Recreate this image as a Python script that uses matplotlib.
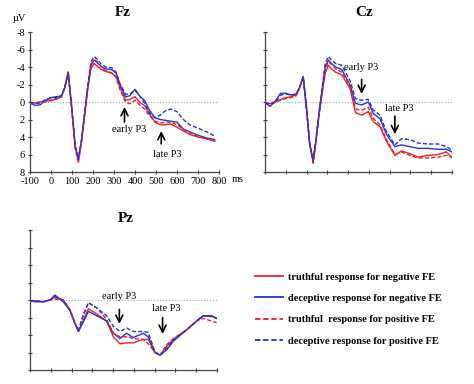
import numpy as np
import matplotlib
matplotlib.use('Agg')
import matplotlib.pyplot as plt
from matplotlib.lines import Line2D

plt.rcParams['font.family'] = ['Liberation Serif', 'DejaVu Serif']
plt.rcParams['axes.unicode_minus'] = False

# ===== Data (µV, positive plotted downward) =====
fz_t = [-100, -75, -50, -25, 0, 25, 50, 65, 82, 100, 115, 130, 145, 160, 175,
        190, 205, 220, 240, 260, 290, 310, 330, 355, 375, 400, 425, 445, 470,
        495, 520, 545, 570, 600, 630, 660, 700, 740, 780]
fz_truth_neg = [0.1, 0.1, 0.0, -0.1, -0.2, -0.3, -0.6, -1.6, -3.4, 1.0, 5.0, 6.7,
                4.5, 1.5, -1.5, -3.8, -4.4, -4.1, -3.7, -3.5, -3.3, -2.9, -1.6,
                -0.2, -0.3, -0.6, 0.1, 0.4, 1.4, 2.3, 2.6, 2.6, 2.5, 2.9, 3.3,
                3.7, 4.0, 4.2, 4.5]
fz_decep_neg = [0.1, 0.4, 0.3, -0.2, -0.5, -0.6, -0.7, -1.6, -3.4, 1.0, 5.0, 6.5,
                4.4, 1.4, -1.7, -4.2, -4.8, -4.5, -4.0, -3.8, -3.7, -3.3, -1.9,
                -0.6, -0.7, -1.45, -0.6, -0.2, 1.0, 1.8, 2.0, 2.1, 2.2, 2.3, 3.1,
                3.4, 3.8, 4.1, 4.3]
fz_truth_pos = [0.2, 0.1, 0.0, 0.0, -0.2, -0.4, -0.6, -1.6, -3.4, 1.1, 5.2, 7.0,
                4.6, 1.5, -1.6, -4.2, -4.9, -4.6, -4.0, -3.6, -3.3, -2.8, -1.3,
                0.0, 0.2, -0.2, 0.4, 0.8, 1.6, 2.2, 2.4, 2.3, 2.3, 2.6, 3.1, 3.6,
                3.9, 4.2, 4.4]
fz_decep_pos = [0.0, 0.2, 0.1, -0.3, -0.5, -0.5, -0.7, -1.6, -3.3, 1.0, 5.0, 6.6,
                4.4, 1.3, -1.8, -4.6, -5.2, -4.9, -4.3, -4.0, -3.9, -3.4, -2.0,
                -0.9, -0.9, -1.35, -0.6, 0.1, 1.3, 1.8, 1.5, 1.0, 0.8, 1.1, 2.0,
                2.6, 3.0, 3.4, 3.9]

cz_t = [-100, -75, -50, -25, 0, 25, 50, 65, 84, 100, 115, 132, 145, 160, 175,
        190, 205, 220, 240, 270, 310, 335, 365, 397, 421, 453, 485, 525, 557,
        597, 637, 685, 733, 773, 800]
cz_truth_neg = [0.15, 0.2, 0.0, -0.3, -0.5, -0.6, -0.8, -1.5, -2.9, 0.8, 4.8, 6.8,
                4.5, 1.5, -1.0, -3.3, -4.2, -3.8, -3.4, -3.1, -1.5, 1.2, 1.5, 1.1,
                2.25, 2.8, 4.5, 6.1, 5.6, 5.9, 6.3, 6.1, 6.0, 5.7, 6.4]
cz_decep_neg = [0.1, 0.5, -0.1, -1.0, -1.0, -0.8, -0.9, -1.6, -2.9, 0.8, 4.8, 6.7,
                4.4, 1.3, -1.4, -4.0, -4.8, -4.4, -4.0, -3.7, -1.9, 0.15, 0.34,
                0.0, 1.3, 1.9, 3.7, 5.1, 4.9, 5.1, 5.3, 5.3, 5.4, 5.4, 5.7]
cz_truth_pos = [0.2, 0.1, 0.0, -0.2, -0.4, -0.5, -0.7, -1.5, -2.9, 0.8, 4.8, 7.0,
                4.6, 1.5, -1.2, -3.8, -4.6, -4.3, -3.8, -3.4, -1.8, 0.8, 0.95,
                0.6, 1.9, 2.6, 4.3, 6.0, 5.7, 6.1, 6.4, 6.4, 6.3, 6.1, 6.3]
cz_decep_pos = [0.1, 0.3, 0.0, -0.8, -0.9, -0.8, -0.9, -1.6, -2.8, 0.8, 4.7, 6.7,
                4.3, 1.2, -1.6, -4.4, -5.2, -4.8, -4.4, -4.2, -2.4, -0.4, -0.2,
                -0.3, 0.9, 1.5, 3.4, 4.9, 4.2, 4.3, 4.7, 4.8, 4.8, 5.1, 5.5]

pz_t = [-100, -75, -36, -4, 20, 60, 92, 115, 133, 157, 181, 221, 269, 301, 333,
        365, 397, 445, 469, 501, 526, 558, 590, 654, 702, 734, 774, 798]
pz_truth_neg = [0.1, 0.1, 0.2, 0.0, -0.3, 0.0, 1.1, 2.6, 3.6, 2.3, 1.0, 1.6, 2.4,
                4.2, 5.0, 4.9, 4.9, 4.5, 4.5, 6.0, 6.3, 5.3, 4.5, 3.4, 2.4, 1.8,
                1.9, 2.1]
pz_decep_neg = [0.1, 0.2, 0.2, 0.0, -0.57, 0.2, 1.2, 2.6, 3.6, 2.5, 1.3, 1.8, 2.4,
                3.8, 4.4, 3.8, 4.3, 3.8, 4.2, 6.0, 6.3, 5.7, 4.7, 3.4, 2.4, 1.8,
                1.8, 2.1]
pz_truth_pos = [0.1, 0.1, 0.2, 0.0, -0.1, 0.0, 1.1, 2.6, 3.6, 1.8, 0.3, 0.9, 2.2,
                3.8, 4.2, 4.2, 4.4, 4.5, 5.0, 6.0, 6.3, 5.1, 4.4, 3.4, 2.4, 2.1,
                2.4, 2.6]
pz_decep_pos = [0.1, 0.1, 0.2, 0.0, -0.4, 0.1, 1.1, 2.5, 3.5, 1.6, 0.3, 0.9, 1.8,
                3.0, 3.6, 3.2, 3.6, 3.6, 3.7, 5.9, 6.3, 5.5, 4.6, 3.4, 2.4, 1.8,
                1.8, 2.1]

labels = ['truthful response for negative FE',
          'deceptive response for negative FE',
          'truthful  response for positive FE',
          'deceptive response for positive FE']

# arrows: (x, tail, tip, text_x, text_y, text)
fz_arrows = [(350, 2.6, 0.25, 371, 3.1, 'early P3'),
             (525, 5.1, 3.0, 554, 6.05, 'late P3')]
cz_arrows = [(365, -2.9, -0.6, 365, -4.0, 'early P3'),
             (525, 1.3, 4.0, 547, 0.7, 'late P3')]
pz_arrows = [(330, 0.76, 3.05, 330, -0.4, 'early P3'),
             (538, 1.7, 4.2, 558, 0.95, 'late P3')]

RED = '#e8202a'
BLUE = '#2233dd'
DASH = (0, (3, 1.5))
styles = [(RED, '-'), (BLUE, '-'), (RED, DASH), (BLUE, DASH)]

W, H = 474, 384
fig = plt.figure(figsize=(W / 100, H / 100), dpi=100)


def make_ax(left, right, top, bottom):
    return fig.add_axes([left / W, 1 - bottom / H, (right - left) / W, (bottom - top) / H])


def draw(ax, t, series, arrows, title, title_x, title_y, show_labels):
    ax.axhline(0, color='#aaaaaa', ls=':', lw=0.8, zorder=1)
    for y, (c, ls) in zip(series, styles):
        ax.plot(t, y, color=c, ls=ls, lw=1.0, zorder=3)
    ax.set_xlim(-100, 800)
    ax.set_ylim(8, -8)
    ax.set_xticks(np.arange(-100, 801, 100))
    ax.set_yticks(np.arange(-8, 9, 2))
    for s in ['top', 'right']:
        ax.spines[s].set_visible(False)
    for s in ['left', 'bottom']:
        ax.spines[s].set_color('#444444')
        ax.spines[s].set_linewidth(0.9)
    ax.tick_params(direction='inout', length=3, width=0.8, color='#444444',
                   labelsize=7.5, pad=2)
    if not show_labels:
        ax.set_xticklabels([])
        ax.set_yticklabels([])
    for x, tail, tip, tx, ty, txt in arrows:
        ax.annotate('', xy=(x, tip), xytext=(x, tail),
                    arrowprops=dict(arrowstyle='->,head_length=0.5,head_width=0.25',
                                    lw=1.2, color='black'))
        ax.text(tx, ty, txt, ha='center', va='center', fontsize=7.5)
    ax.text(title_x, title_y, title, transform=ax.transAxes, ha='center',
            va='center', fontsize=11, fontweight='bold')


ax_fz = make_ax(30, 219, 32, 172)
draw(ax_fz, fz_t, [fz_truth_neg, fz_decep_neg, fz_truth_pos, fz_decep_pos],
     fz_arrows, 'Fz', 0.49, 1.136, True)
ax_fz.text(-0.055, 1.1, 'µV', transform=ax_fz.transAxes, ha='center',
           va='center', fontsize=7.5)
ax_fz.text(1.065, -0.057, 'ms', transform=ax_fz.transAxes, ha='left',
           va='center', fontsize=7.5)

ax_cz = make_ax(265, 452, 32, 172)
draw(ax_cz, cz_t, [cz_truth_neg, cz_decep_neg, cz_truth_pos, cz_decep_pos],
     cz_arrows, 'Cz', 0.53, 1.136, False)

ax_pz = make_ax(30, 217, 230, 370)
draw(ax_pz, pz_t, [pz_truth_neg, pz_decep_neg, pz_truth_pos, pz_decep_pos],
     pz_arrows, 'Pz', 0.51, 1.079, False)

handles = [Line2D([], [], color=c, ls=ls, lw=1.3) for c, ls in styles]
fig.legend(handles, labels, loc='upper left', bbox_to_anchor=(255 / W, 1 - 272.5 / H),
           frameon=False, handlelength=2.7, handletextpad=0.5, labelspacing=1.15,
           borderpad=0, borderaxespad=0,
           prop={'family': 'Liberation Serif', 'weight': 'bold', 'size': 7.5})

plt.savefig('out.png', dpi=100)
